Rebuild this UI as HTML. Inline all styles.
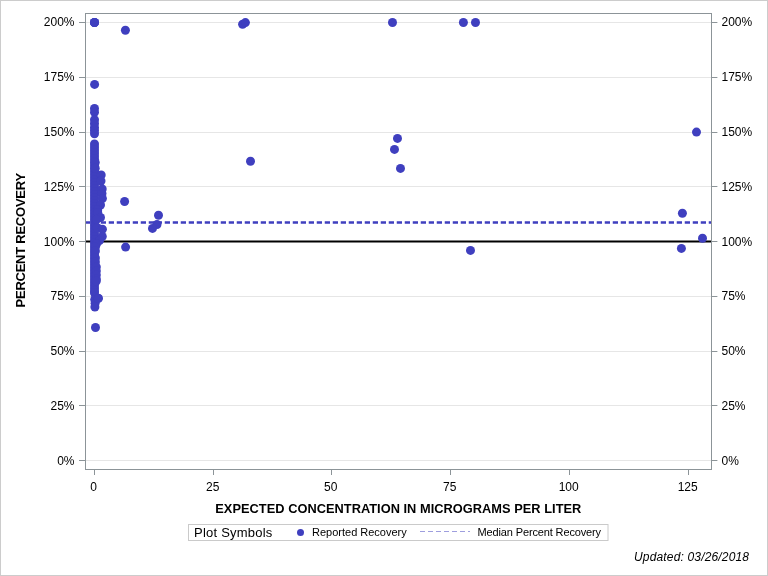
<!DOCTYPE html>
<html><head><meta charset="utf-8"><style>
html,body{margin:0;padding:0;background:#fff;width:768px;height:576px;overflow:hidden}
svg{display:block;font-family:"Liberation Sans",sans-serif;will-change:transform}
</style></head><body>
<svg width="768" height="576" viewBox="0 0 768 576">
<rect x="0.5" y="0.5" width="767" height="575" fill="#fff" stroke="#cccccc" stroke-width="1"/>
<g stroke="#e6e6e6" stroke-width="1"><line x1="86" x2="711" y1="22.5" y2="22.5"/><line x1="86" x2="711" y1="77.5" y2="77.5"/><line x1="86" x2="711" y1="132.5" y2="132.5"/><line x1="86" x2="711" y1="186.5" y2="186.5"/><line x1="86" x2="711" y1="241.5" y2="241.5"/><line x1="86" x2="711" y1="296.5" y2="296.5"/><line x1="86" x2="711" y1="351.5" y2="351.5"/><line x1="86" x2="711" y1="405.5" y2="405.5"/><line x1="86" x2="711" y1="460.5" y2="460.5"/></g>
<line x1="86" x2="711" y1="241.5" y2="241.5" stroke="#000" stroke-width="2"/>
<line x1="85" x2="711" y1="222.5" y2="222.5" stroke="#3f3fbf" stroke-width="2.6" stroke-dasharray="5.25 2.75" stroke-dashoffset="0.25"/>
<g fill="#3f3fbf"><circle cx="94.5" cy="108.5" r="4.5"/><circle cx="94.5" cy="112.3" r="4.5"/><circle cx="94.5" cy="119.8" r="4.5"/><circle cx="94.5" cy="123.5" r="4.5"/><circle cx="94.5" cy="127.5" r="4.5"/><circle cx="94.5" cy="130.5" r="4.5"/><circle cx="94.5" cy="133.8" r="4.5"/><circle cx="94.5" cy="143.9" r="4.5"/><circle cx="94.5" cy="146.9" r="4.5"/><circle cx="94.5" cy="149.9" r="4.5"/><circle cx="94.5" cy="152.9" r="4.5"/><circle cx="94.5" cy="155.9" r="4.5"/><circle cx="94.5" cy="158.9" r="4.5"/><circle cx="94.5" cy="161.9" r="4.5"/><circle cx="94.5" cy="164.9" r="4.5"/><circle cx="94.5" cy="167.9" r="4.5"/><circle cx="94.5" cy="170.9" r="4.5"/><circle cx="94.5" cy="173.9" r="4.5"/><circle cx="94.5" cy="176.9" r="4.5"/><circle cx="94.5" cy="179.9" r="4.5"/><circle cx="94.5" cy="182.9" r="4.5"/><circle cx="94.5" cy="185.9" r="4.5"/><circle cx="94.5" cy="188.9" r="4.5"/><circle cx="94.5" cy="191.9" r="4.5"/><circle cx="94.5" cy="194.9" r="4.5"/><circle cx="94.5" cy="197.9" r="4.5"/><circle cx="94.5" cy="200.9" r="4.5"/><circle cx="94.5" cy="203.9" r="4.5"/><circle cx="94.5" cy="206.9" r="4.5"/><circle cx="94.5" cy="209.9" r="4.5"/><circle cx="94.5" cy="212.9" r="4.5"/><circle cx="94.5" cy="215.9" r="4.5"/><circle cx="94.5" cy="218.9" r="4.5"/><circle cx="94.5" cy="221.9" r="4.5"/><circle cx="94.5" cy="224.9" r="4.5"/><circle cx="94.5" cy="227.9" r="4.5"/><circle cx="94.5" cy="230.9" r="4.5"/><circle cx="94.5" cy="233.9" r="4.5"/><circle cx="94.5" cy="236.9" r="4.5"/><circle cx="94.5" cy="239.9" r="4.5"/><circle cx="94.5" cy="242.9" r="4.5"/><circle cx="94.5" cy="245.9" r="4.5"/><circle cx="94.5" cy="248.9" r="4.5"/><circle cx="94.5" cy="251.9" r="4.5"/><circle cx="94.5" cy="254.9" r="4.5"/><circle cx="94.5" cy="257.9" r="4.5"/><circle cx="94.5" cy="260.9" r="4.5"/><circle cx="94.5" cy="263.9" r="4.5"/><circle cx="94.5" cy="266.9" r="4.5"/><circle cx="94.5" cy="269.9" r="4.5"/><circle cx="94.5" cy="272.9" r="4.5"/><circle cx="94.5" cy="275.9" r="4.5"/><circle cx="94.5" cy="278.9" r="4.5"/><circle cx="94.5" cy="281.9" r="4.5"/><circle cx="94.5" cy="284.9" r="4.5"/><circle cx="94.5" cy="287.9" r="4.5"/><circle cx="94.5" cy="290.9" r="4.5"/><circle cx="94.5" cy="293" r="4.5"/><circle cx="94.7" cy="299.5" r="4.5"/><circle cx="95.1" cy="303.2" r="4.5"/><circle cx="94.9" cy="307" r="4.5"/><circle cx="95.2" cy="162.5" r="4.5"/><circle cx="95.2" cy="168.3" r="4.5"/><circle cx="101.2" cy="175" r="4.5"/><circle cx="101" cy="181" r="4.5"/><circle cx="102.2" cy="189" r="4.5"/><circle cx="102" cy="193.5" r="4.5"/><circle cx="102.4" cy="198.5" r="4.5"/><circle cx="100.5" cy="205" r="4.5"/><circle cx="97.7" cy="210" r="4.5"/><circle cx="97.7" cy="212.5" r="4.5"/><circle cx="100.5" cy="217.5" r="4.5"/><circle cx="96.5" cy="219.5" r="4.5"/><circle cx="97" cy="227.5" r="4.5"/><circle cx="102.4" cy="229.3" r="4.5"/><circle cx="102.3" cy="236.5" r="4.5"/><circle cx="99.5" cy="240.5" r="4.5"/><circle cx="96.5" cy="244" r="4.5"/><circle cx="95.4" cy="247" r="4.5"/><circle cx="95.4" cy="251" r="4.5"/><circle cx="95.4" cy="258" r="4.5"/><circle cx="95.4" cy="262" r="4.5"/><circle cx="96.3" cy="267" r="4.5"/><circle cx="96.3" cy="271" r="4.5"/><circle cx="96.3" cy="275" r="4.5"/><circle cx="96.3" cy="279" r="4.5"/><circle cx="96.3" cy="281" r="4.5"/><circle cx="98.3" cy="298.2" r="4.5"/><circle cx="94.5" cy="22.5" r="4.5"/><circle cx="125.4" cy="30.2" r="4.5"/><circle cx="242.6" cy="24.2" r="4.5"/><circle cx="245.4" cy="22.6" r="4.5"/><circle cx="392.5" cy="22.5" r="4.5"/><circle cx="463.4" cy="22.5" r="4.5"/><circle cx="475.5" cy="22.5" r="4.5"/><circle cx="94.6" cy="84.4" r="4.5"/><circle cx="250.5" cy="161.3" r="4.5"/><circle cx="397.5" cy="138.4" r="4.5"/><circle cx="394.5" cy="149.4" r="4.5"/><circle cx="400.5" cy="168.4" r="4.5"/><circle cx="696.5" cy="132.1" r="4.5"/><circle cx="124.6" cy="201.5" r="4.5"/><circle cx="158.5" cy="215.2" r="4.5"/><circle cx="157" cy="224.5" r="4.5"/><circle cx="152.5" cy="228.4" r="4.5"/><circle cx="125.6" cy="247.1" r="4.5"/><circle cx="470.5" cy="250.4" r="4.5"/><circle cx="682.4" cy="213.3" r="4.5"/><circle cx="702.5" cy="238.3" r="4.5"/><circle cx="681.4" cy="248.4" r="4.5"/><circle cx="98.3" cy="298.4" r="4.5"/><circle cx="95.5" cy="327.5" r="4.5"/><circle cx="94.5" cy="22.5" r="4.5"/><circle cx="94.5" cy="22.5" r="4.5"/></g>
<rect x="85.5" y="13.5" width="626" height="456" fill="none" stroke="#8c9498" stroke-width="1"/>
<g stroke="#8c9498" stroke-width="1"><line x1="79" x2="85" y1="22.5" y2="22.5"/><line x1="712" x2="717.4" y1="22.5" y2="22.5"/><line x1="79" x2="85" y1="77.5" y2="77.5"/><line x1="712" x2="717.4" y1="77.5" y2="77.5"/><line x1="79" x2="85" y1="132.5" y2="132.5"/><line x1="712" x2="717.4" y1="132.5" y2="132.5"/><line x1="79" x2="85" y1="186.5" y2="186.5"/><line x1="712" x2="717.4" y1="186.5" y2="186.5"/><line x1="79" x2="85" y1="241.5" y2="241.5"/><line x1="712" x2="717.4" y1="241.5" y2="241.5"/><line x1="79" x2="85" y1="296.5" y2="296.5"/><line x1="712" x2="717.4" y1="296.5" y2="296.5"/><line x1="79" x2="85" y1="351.5" y2="351.5"/><line x1="712" x2="717.4" y1="351.5" y2="351.5"/><line x1="79" x2="85" y1="405.5" y2="405.5"/><line x1="712" x2="717.4" y1="405.5" y2="405.5"/><line x1="79" x2="85" y1="460.5" y2="460.5"/><line x1="712" x2="717.4" y1="460.5" y2="460.5"/><line x1="94.5" x2="94.5" y1="470" y2="475"/><line x1="213.5" x2="213.5" y1="470" y2="475"/><line x1="331.5" x2="331.5" y1="470" y2="475"/><line x1="450.5" x2="450.5" y1="470" y2="475"/><line x1="569.5" x2="569.5" y1="470" y2="475"/><line x1="688.5" x2="688.5" y1="470" y2="475"/></g>
<g font-size="12" fill="#000"><text x="74.5" y="26" text-anchor="end">200%</text><text x="74.5" y="81" text-anchor="end">175%</text><text x="74.5" y="136" text-anchor="end">150%</text><text x="74.5" y="191" text-anchor="end">125%</text><text x="74.5" y="246" text-anchor="end">100%</text><text x="74.5" y="300" text-anchor="end">75%</text><text x="74.5" y="355" text-anchor="end">50%</text><text x="74.5" y="410" text-anchor="end">25%</text><text x="74.5" y="465" text-anchor="end">0%</text><text x="721.5" y="26">200%</text><text x="721.5" y="81">175%</text><text x="721.5" y="136">150%</text><text x="721.5" y="191">125%</text><text x="721.5" y="246">100%</text><text x="721.5" y="300">75%</text><text x="721.5" y="355">50%</text><text x="721.5" y="410">25%</text><text x="721.5" y="465">0%</text><text x="93.7" y="491" text-anchor="middle">0</text><text x="212.7" y="491" text-anchor="middle">25</text><text x="330.7" y="491" text-anchor="middle">50</text><text x="449.7" y="491" text-anchor="middle">75</text><text x="568.7" y="491" text-anchor="middle">100</text><text x="687.7" y="491" text-anchor="middle">125</text></g>
<text x="398.3" y="512.7" text-anchor="middle" font-size="12.8" font-weight="bold" textLength="366" lengthAdjust="spacing">EXPECTED CONCENTRATION IN MICROGRAMS PER LITER</text>
<text transform="translate(25,240.2) rotate(-90)" text-anchor="middle" font-size="13" font-weight="bold" textLength="134.5" lengthAdjust="spacing">PERCENT RECOVERY</text>
<rect x="188.5" y="524.5" width="419.5" height="16" fill="none" stroke="#cacaca" stroke-width="1"/>
<text x="194" y="537" font-size="13" textLength="78.3">Plot Symbols</text>
<circle cx="300.5" cy="532.5" r="3.5" fill="#3f3fbf"/>
<text x="312" y="536" font-size="11">Reported Recovery</text>
<line x1="420" x2="470" y1="531.5" y2="531.5" stroke="#3f3fbf" stroke-width="1" stroke-dasharray="5 3" opacity="0.5"/>
<text x="477.5" y="536" font-size="11" textLength="123.6">Median Percent Recovery</text>
<text x="634" y="560.6" font-size="12" font-style="italic" textLength="115">Updated: 03/26/2018</text>
</svg>
</body></html>
